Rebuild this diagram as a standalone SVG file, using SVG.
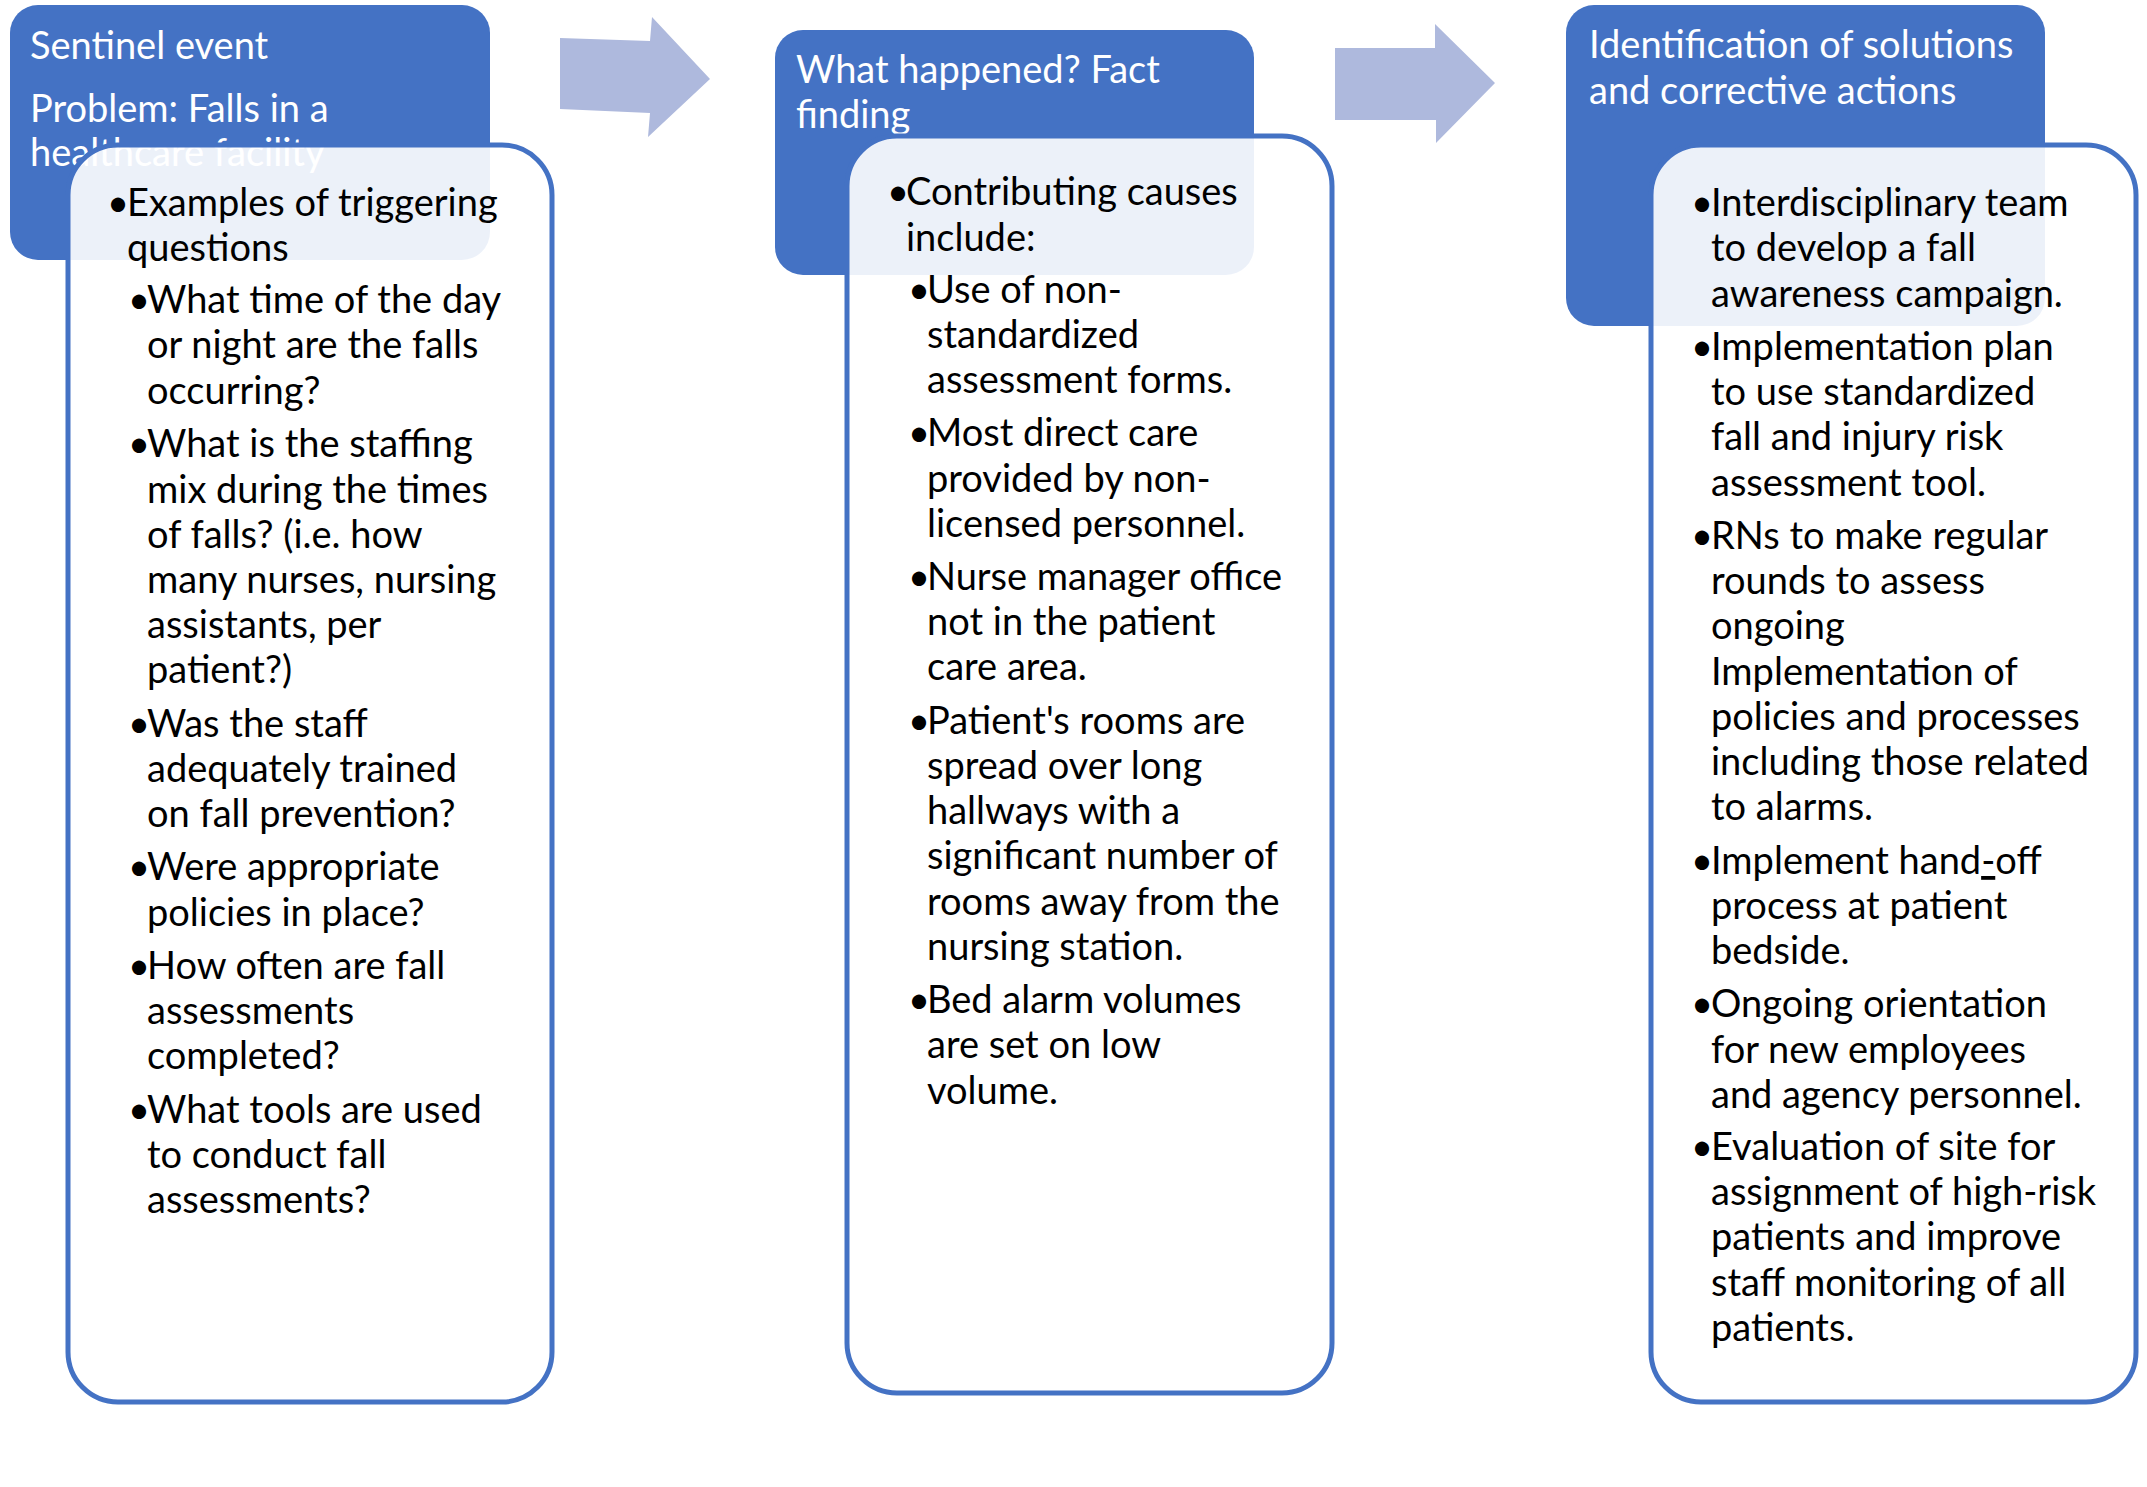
<svg xmlns="http://www.w3.org/2000/svg" width="2147" height="1487" viewBox="0 0 2147 1487">
<style>
.hdr{fill:#4472C4;}
.body{fill:#FFFFFF;fill-opacity:0.9;stroke:#4472C4;stroke-width:5;}
.arrow{fill:#AEB9DD;}
text{font-family:Lato,"Open Sans","Liberation Sans",sans-serif;font-size:38px;}
.ht{fill:#FFFFFF;}
.bt{fill:#000000;}
</style>
<rect width="2147" height="1487" fill="#FFFFFF"/>
<g id="connectors">
<polygon class="arrow" points="560,38 650,41 652,17 710,79 648,137 650,113 560,109"/>
<polygon class="arrow" points="1335,48 1435,48 1435,24 1495,83 1436,143 1436,120 1335,120"/>
</g>
<g id="node-sentinel">
<rect class="hdr" x="10" y="5" width="480" height="255" rx="28"/>
<text class="ht"><tspan x="30" y="59">Sentinel event</tspan><tspan x="30" y="122">Problem: Falls in a</tspan><tspan x="30" y="166">healthcare facility</tspan></text>
<rect class="body" x="68" y="145" width="484" height="1257" rx="50"/>
<g class="bt">
<text x="107" y="216">•</text><text x="127" y="216">Examples of triggering</text>
<text x="127" y="261">questions</text>
<text x="128" y="313">•</text><text x="147" y="313">What time of the day</text>
<text x="147" y="358">or night are the falls</text>
<text x="147" y="404">occurring?</text>
<text x="128" y="457">•</text><text x="147" y="457">What is the staffing</text>
<text x="147" y="503">mix during the times</text>
<text x="147" y="548">of falls? (i.e. how</text>
<text x="147" y="593">many nurses, nursing</text>
<text x="147" y="638">assistants, per</text>
<text x="147" y="683">patient?)</text>
<text x="128" y="737">•</text><text x="147" y="737">Was the staff</text>
<text x="147" y="782">adequately trained</text>
<text x="147" y="827">on fall prevention?</text>
<text x="128" y="880">•</text><text x="147" y="880">Were appropriate</text>
<text x="147" y="926">policies in place?</text>
<text x="128" y="979">•</text><text x="147" y="979">How often are fall</text>
<text x="147" y="1024">assessments</text>
<text x="147" y="1069">completed?</text>
<text x="128" y="1123">•</text><text x="147" y="1123">What tools are used</text>
<text x="147" y="1168">to conduct fall</text>
<text x="147" y="1213">assessments?</text>
</g>
</g>
<g id="node-what-happened">
<rect class="hdr" x="775" y="30" width="479" height="245" rx="28"/>
<text class="ht"><tspan x="796" y="83">What happened? Fact</tspan><tspan x="796" y="128">finding</tspan></text>
<rect class="body" x="847" y="136" width="485" height="1257" rx="50"/>
<g class="bt">
<text x="887" y="205">•</text><text x="906" y="205">Contributing causes</text>
<text x="906" y="251">include:</text>
<text x="908" y="303">•</text><text x="927" y="303">Use of non-</text>
<text x="927" y="348">standardized</text>
<text x="927" y="393">assessment forms.</text>
<text x="908" y="446">•</text><text x="927" y="446">Most direct care</text>
<text x="927" y="492">provided by non-</text>
<text x="927" y="537">licensed personnel.</text>
<text x="908" y="590">•</text><text x="927" y="590">Nurse manager office</text>
<text x="927" y="635">not in the patient</text>
<text x="927" y="680">care area.</text>
<text x="908" y="734">•</text><text x="927" y="734">Patient's rooms are</text>
<text x="927" y="779">spread over long</text>
<text x="927" y="824">hallways with a</text>
<text x="927" y="869">significant number of</text>
<text x="927" y="915">rooms away from the</text>
<text x="927" y="960">nursing station.</text>
<text x="908" y="1013">•</text><text x="927" y="1013">Bed alarm volumes</text>
<text x="927" y="1058">are set on low</text>
<text x="927" y="1104">volume.</text>
</g>
</g>
<g id="node-solutions">
<rect class="hdr" x="1566" y="5" width="479" height="321" rx="28"/>
<text class="ht"><tspan x="1589" y="58">Identification of solutions</tspan><tspan x="1589" y="104">and corrective actions</tspan></text>
<rect class="body" x="1651" y="145" width="485" height="1257" rx="50"/>
<g class="bt">
<text x="1691" y="216">•</text><text x="1711" y="216">Interdisciplinary team</text>
<text x="1711" y="261">to develop a fall</text>
<text x="1711" y="307">awareness campaign.</text>
<text x="1691" y="360">•</text><text x="1711" y="360">Implementation plan</text>
<text x="1711" y="405">to use standardized</text>
<text x="1711" y="450">fall and injury risk</text>
<text x="1711" y="496">assessment tool.</text>
<text x="1691" y="549">•</text><text x="1711" y="549">RNs to make regular</text>
<text x="1711" y="594">rounds to assess</text>
<text x="1711" y="639">ongoing</text>
<text x="1711" y="685">Implementation of</text>
<text x="1711" y="730">policies and processes</text>
<text x="1711" y="775">including those related</text>
<text x="1711" y="820">to alarms.</text>
<text x="1691" y="874">•</text><text x="1711" y="874">Implement hand<tspan text-decoration="underline">-</tspan>off</text>
<text x="1711" y="919">process at patient</text>
<text x="1711" y="964">bedside.</text>
<text x="1691" y="1017">•</text><text x="1711" y="1017">Ongoing orientation</text>
<text x="1711" y="1063">for new employees</text>
<text x="1711" y="1108">and agency personnel.</text>
<text x="1691" y="1160">•</text><text x="1711" y="1160">Evaluation of site for</text>
<text x="1711" y="1205">assignment of high-risk</text>
<text x="1711" y="1250">patients and improve</text>
<text x="1711" y="1296">staff monitoring of all</text>
<text x="1711" y="1341">patients.</text>
</g>
</g>
</svg>
